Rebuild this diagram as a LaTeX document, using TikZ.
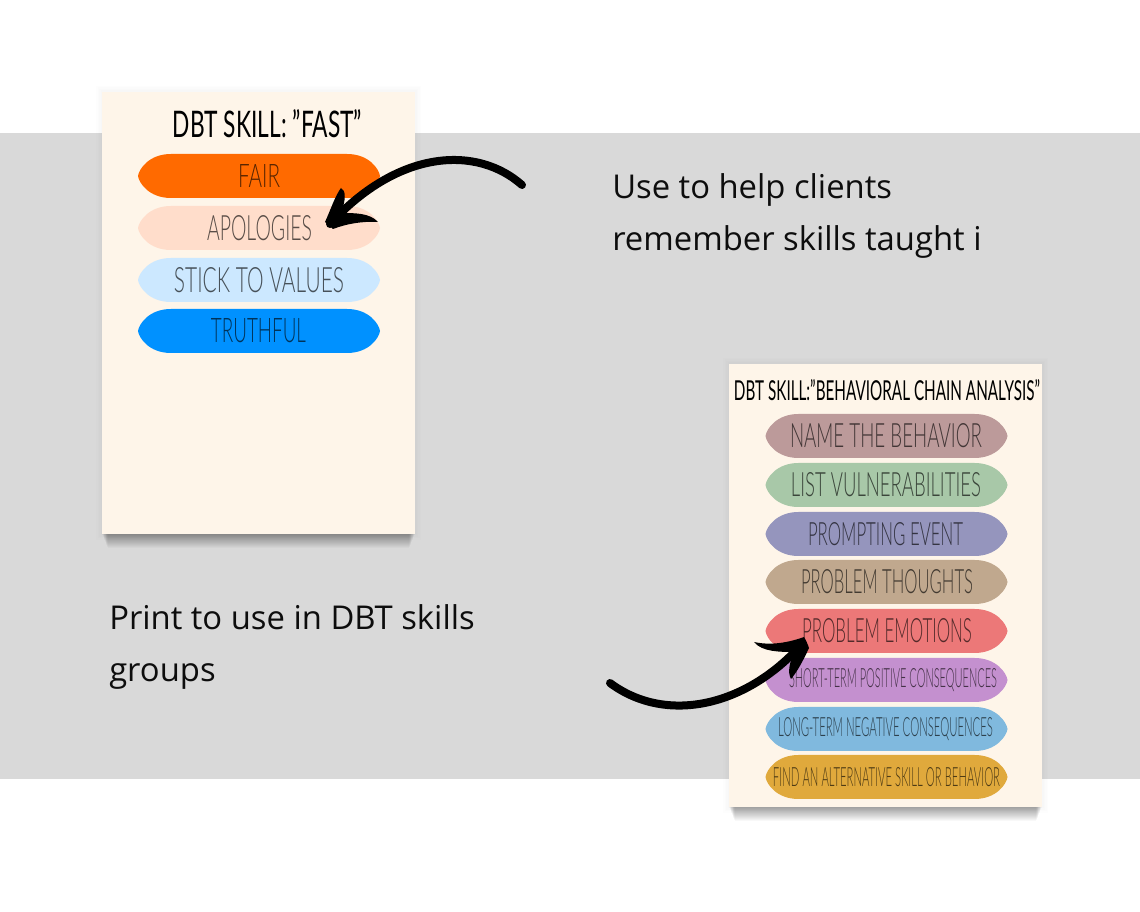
\documentclass[tikz,border=0pt]{standalone}
\usepackage{fontspec}
\usepackage{graphicx}
\usepackage{xcolor}
\setmainfont{Open Sans}
\newfontfamily\skillfont{Lato Light}
\newfontfamily\titlefont{Lato}
\newdimen\skillpx
\skillpx=0.75pt
\definecolor{bandgrey}{HTML}{D9D9D9}
\definecolor{cardcream}{HTML}{FEF5E9}
\definecolor{fairfill}{HTML}{FF6A00}
\definecolor{apologyfill}{HTML}{FFDDCB}
\definecolor{valuesfill}{HTML}{CCE8FF}
\definecolor{truthfill}{HTML}{0091FF}
\definecolor{namefill}{HTML}{BC9A9A}
\definecolor{listfill}{HTML}{A8C8A8}
\definecolor{promptfill}{HTML}{9595BD}
\definecolor{thoughtfill}{HTML}{C0A88E}
\definecolor{emotionfill}{HTML}{EC7878}
\definecolor{shortfill}{HTML}{C490CF}
\definecolor{longfill}{HTML}{80B9DE}
\definecolor{findfill}{HTML}{E0A93C}
\tikzset{
	skilllabel/.style={inner sep=0pt, outer sep=0pt},
	captiontext/.style={inner sep=0pt, anchor=north west, align=left, font=\fontsize{24.6}{39}\selectfont, text=black!95},
	brush/.style={line width=6pt, line cap=round, black},
}
% name, pill centre x, y, colour, text centre x, text width, text height, text
\newcommand{\skillpill}[8]{
	\fill [#4] (#2-121,#3) .. controls (#2-120,#3-7) and (#2-110,#3-22) .. (#2-88,#3-22) -- (#2+88,#3-22) .. controls (#2+110,#3-22) and (#2+120,#3-7) .. (#2+121,#3) .. controls (#2+120,#3+7) and (#2+110,#3+22) .. (#2+88,#3+22) -- (#2-88,#3+22) .. controls (#2-110,#3+22) and (#2-120,#3+7) .. cycle;
	\node [skilllabel, text=black!65!#4] (#1) at (#5,#3) {\resizebox{#6\skillpx}{#7\skillpx}{\skillfont #8}};
}
\newcommand{\skillcard}[4]{
	\foreach \s in {1,...,4} {
		\fill [black, opacity=0.006] (#1-\s*1.5,#2-\s*1.5) rectangle (#3+\s*1.5,#4+\s*1.5);
	}
	\foreach \s in {1,...,14} {
		\fill [black, opacity=0.028] (#1+\s*0.4,#2) rectangle (#3-\s*0.4,#4+\s*1);
	}
	\fill [cardcream] (#1,#2) rectangle (#3,#4);
}
\begin{document}
\begin{tikzpicture}[x=0.75pt, y=-0.75pt]
	\useasboundingbox (0,0) rectangle (1140,912);
	\fill [white] (0,0) rectangle (1140,912);
	\fill [bandgrey] (0,133) rectangle (1140,779);

	% fast card
	\skillcard{102}{92}{415}{534}
	\node [skilllabel] (fasttitle) at (267.5,124) {\resizebox{189\skillpx}{28\skillpx}{\titlefont DBT SKILL: ”FAST”}};
	\skillpill{fair}{259}{176}{fairfill}{259}{42}{23}{FAIR}
	\skillpill{apologies}{259}{228}{apologyfill}{259.5}{105}{25}{APOLOGIES}
	\skillpill{values}{259}{280}{valuesfill}{259}{170}{25}{STICK TO VALUES}
	\skillpill{truthful}{259}{331}{truthfill}{258.5}{95}{24}{TRUTHFUL}

	% chain card
	\skillcard{729}{364}{1042}{807}
	\node [skilllabel] (chaintitle) at (887,390.5) {\resizebox{306\skillpx}{21\skillpx}{\titlefont DBT SKILL:”BEHAVIORAL CHAIN ANALYSIS”}};
	\skillpill{behavior}{886.5}{436}{namefill}{886}{192}{24}{NAME THE BEHAVIOR}
	\skillpill{vulnerable}{886.5}{485}{listfill}{886}{190}{24}{LIST VULNERABILITIES}
	\skillpill{prompting}{886.5}{534}{promptfill}{885.5}{155}{23}{PROMPTING EVENT}
	\skillpill{thoughts}{886.5}{582}{thoughtfill}{887}{172}{24}{PROBLEM THOUGHTS}
	\skillpill{emotions}{886.5}{631}{emotionfill}{887}{170}{24}{PROBLEM EMOTIONS}
	\skillpill{shortterm}{886.5}{680}{shortfill}{893}{208}{19}{SHORT-TERM POSITIVE CONSEQUENCES}
	\skillpill{longterm}{886.5}{729}{longfill}{885.5}{215}{19}{LONG-TERM NEGATIVE CONSEQUENCES}
	\skillpill{alternative}{886.5}{777}{findfill}{886.5}{227}{19}{FIND AN ALTERNATIVE SKILL OR BEHAVIOR}

	% captions
	\node [captiontext] (clients) at (612,173.5) {Use to help clients\\remember skills taught i};
	\node [captiontext] (groups) at (109,604) {Print to use in DBT skills\\groups};

	% brush arrows
	\coordinate (fasttail) at (522,185);
	\coordinate (fasttip) at (330,224);
	\draw [brush] (fasttail) .. controls (478,146) and (400,148) .. (fasttip);
	\fill (325,222) .. controls (331,209) and (335,196) .. (341,188) .. controls (346,190) and (346,200) .. (341,213) .. controls (355,213) and (370,213) .. (378,222) .. controls (362,221) and (346,224) .. (333,229) -- cycle;

	\coordinate (chaintail) at (610,683);
	\coordinate (chaintip) at (802,644);
	\draw [brush] (chaintail) .. controls (665,724) and (745,708) .. (chaintip);
	\fill (804,637) .. controls (806,640) and (808,645) .. (809,648) .. controls (803,661) and (797,672) .. (791,679) .. controls (787,672) and (790,660) .. (795,652) .. controls (780,652) and (762,652) .. (754,642) .. controls (772,646) and (790,642) .. cycle;
\end{tikzpicture}
\end{document}
